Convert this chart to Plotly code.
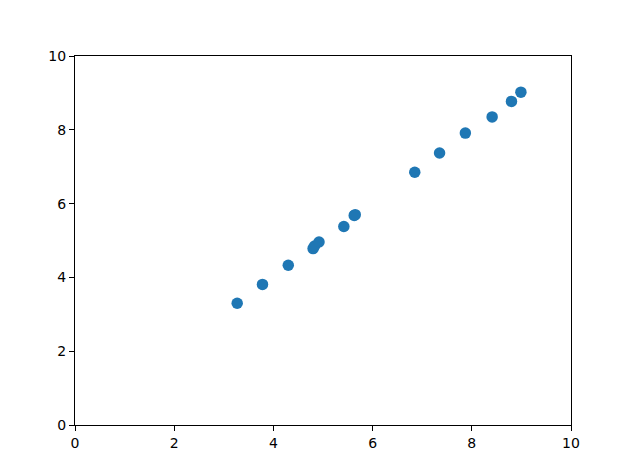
import plotly.graph_objects as go

x_vals = [3.27, 3.78, 4.30, 4.80, 4.83, 4.92, 5.42, 5.63, 5.65, 6.85, 7.35, 7.87, 8.41, 8.80, 8.99]
y_vals = [3.30, 3.81, 4.33, 4.78, 4.85, 4.96, 5.38, 5.68, 5.70, 6.85, 7.37, 7.91, 8.35, 8.77, 9.02]

fig = go.Figure()
fig.add_trace(go.Scatter(x=x_vals, y=y_vals, mode="markers",
                         marker=dict(color="#1f77b4", size=11.5, line=dict(width=0))))

axis_common = dict(range=[0, 10], dtick=2, showgrid=False, zeroline=False,
                   showline=True, linecolor="black", linewidth=1, mirror=True,
                   ticks="outside", ticklen=5, tickcolor="black",
                   tickfont=dict(family="DejaVu Sans", size=14, color="black"))
fig.update_xaxes(**axis_common)
fig.update_yaxes(**axis_common)
fig.update_layout(width=625, height=467, margin=dict(l=67, r=62, t=48, b=50),
                  plot_bgcolor="white", paper_bgcolor="white", showlegend=False)
fig.write_html("out.html")
